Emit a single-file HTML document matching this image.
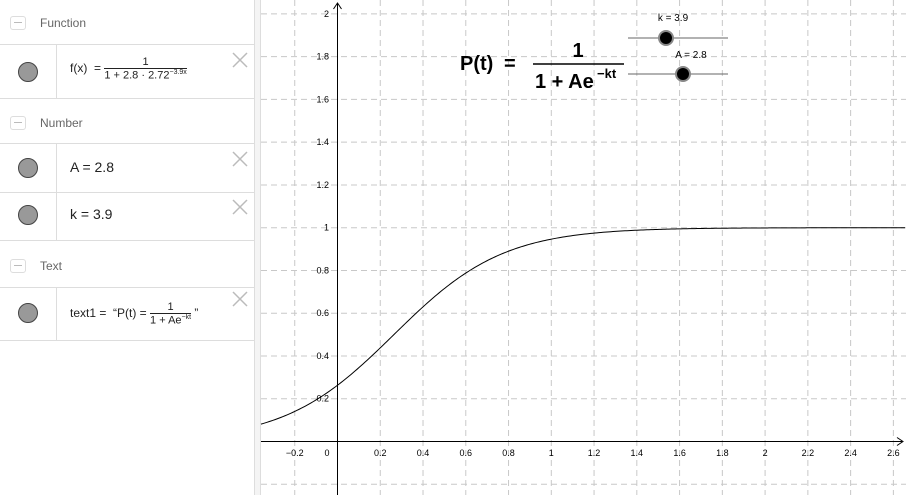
<!DOCTYPE html>
<html><head><meta charset="utf-8"><style>
body{margin:0;width:906px;height:495px;overflow:hidden;background:#fff;font-family:"Liberation Sans",sans-serif;position:relative}
.p{position:absolute;left:0;top:0;width:254px;height:495px;background:#fff;border-right:1px solid #ddd}
.hdr{position:absolute;left:0;width:254px;color:#666;font-size:12px}
.hdr .m{position:absolute;left:10px;width:14px;height:12px;border:1px solid #ddd;border-radius:3px}
.hdr .m:after{content:"";position:absolute;left:3px;top:5px;width:8px;height:1px;background:#bbb}
.hdr span{position:absolute;left:40px}
.row{position:absolute;left:0;width:254px;border-top:1px solid #ddd;border-bottom:1px solid #ddd}
.row .c{position:absolute;left:18px;width:18px;height:18px;border-radius:50%;background:#999;border:1px solid #444}
.row .v{position:absolute;left:56px;top:0;bottom:0;border-left:1px solid #ddd}
.row svg.x{position:absolute;left:232px;top:7px}
.row .t{position:absolute;left:70px;font-size:13px;color:#222}
.fr{display:inline-block;vertical-align:middle;text-align:center;font-size:11px}
.fr .n{display:block;border-bottom:1px solid #222;padding:0 1px}
</style></head><body>
<div class="p">
<div class="hdr" style="top:16px"><div class="m"></div><span>Function</span></div>
<div class="row" style="top:44px;height:53px"><div class="c" style="top:17px"></div><div class="v"></div><svg class="x" width="16" height="16"><path d="M1 1L15 15M15 1L1 15" stroke="#bbb" stroke-width="1.5"/></svg>
<div class="t" style="top:11px;font-size:12px">f(x) &nbsp;= <span class="fr"><span class="n">1</span>1 + 2.8 · 2.72<sup style="font-size:7px">−3.9x</sup></span></div></div>
<div class="hdr" style="top:116px"><div class="m"></div><span>Number</span></div>
<div class="row" style="top:143px;height:48px"><div class="c" style="top:14px"></div><div class="v"></div><svg class="x" width="16" height="16"><path d="M1 1L15 15M15 1L1 15" stroke="#bbb" stroke-width="1.5"/></svg><div class="t" style="top:15px;font-size:14px">A = 2.8</div></div>
<div class="row" style="top:192px;height:48px;border-top:none"><div class="c" style="top:13px"></div><div class="v"></div><svg class="x" width="16" height="16"><path d="M1 1L15 15M15 1L1 15" stroke="#bbb" stroke-width="1.5"/></svg><div class="t" style="top:14px;font-size:14px">k = 3.9</div></div>
<div class="hdr" style="top:259px"><div class="m"></div><span>Text</span></div>
<div class="row" style="top:287px;height:52px"><div class="c" style="top:15px"></div><div class="v"></div><svg class="x" width="16" height="16" style="top:3px"><path d="M1 1L15 15M15 1L1 15" stroke="#bbb" stroke-width="1.5"/></svg>
<div class="t" style="top:13px;font-size:12px">text1 = &nbsp;“P(t) = <span class="fr"><span class="n">1</span>1 + Ae<sup style="font-size:7px">−kt</sup></span> ”</div></div>
</div>
<div style="position:absolute;left:255px;top:0;width:5px;height:495px;background:#f4f4f4;border-right:1px solid #ddd"></div>
<svg id="g" style="position:absolute;left:0;top:0" width="906" height="495" font-family="Liberation Sans, sans-serif" font-size="9">
<g id="grid" stroke="#c8c8c8" stroke-dasharray="6,4" stroke-width="1"></g>
<line x1="261" y1="441.5" x2="902" y2="441.5" stroke="#000"/>
<path d="M897 437.5 L903 441.5 L897 445.5" fill="none" stroke="#000"/>
<line x1="337.5" y1="495" x2="337.5" y2="3" stroke="#000"/>
<path d="M333.5 9 L337.5 3 L341.5 9" fill="none" stroke="#000"/>
<g id="lab" fill="#000"></g>
<path id="curve" fill="none" stroke="#000" stroke-width="1"/>
<line x1="628" y1="38" x2="728" y2="38" stroke="#666"/>
<line x1="628" y1="74" x2="728" y2="74" stroke="#666"/>
<circle cx="666" cy="38" r="7" fill="#000" stroke="#888" stroke-width="2"/>
<circle cx="683" cy="74" r="7" fill="#000" stroke="#888" stroke-width="2"/>
<text x="673" y="21" font-size="10" text-anchor="middle">k = 3.9</text>
<text x="691" y="58" font-size="10" text-anchor="middle">A = 2.8</text>
<g font-weight="bold" font-size="20">
<text x="460" y="70">P(t)</text>
<text x="504" y="70">=</text>
<text x="578" y="57" text-anchor="middle">1</text>
<line x1="533" y1="64" x2="624" y2="64" stroke="#000" stroke-width="1.5"/>
<text x="535" y="88">1 + Ae</text>
<text x="597" y="78" font-size="13">−kt</text>
</g>
</svg>
<script>
var ox=337.5,oy=441.5,s=213.8,g=document.getElementById('grid'),l=document.getElementById('lab'),h='',t='';
for(var i=-1;i<=13;i++){var x=ox+i*s*0.2;if(x<261||i==0)continue;h+='<line x1="'+x+'" y1="0" x2="'+x+'" y2="495"/>';
var v=(i*0.2).toFixed(1).replace(/\.0$/,'').replace('-','−');t+='<text x="'+x+'" y="456" text-anchor="middle">'+v+'</text>';}
for(var j=-1;j<=10;j++){var y=oy-j*s*0.2;if(j==0)continue;h+='<line x1="261" y1="'+y+'" x2="906" y2="'+y+'"/>';
if(j>0){var v=(j*0.2).toFixed(1).replace(/\.0$/,'');t+='<text x="329" y="'+(y+3)+'" text-anchor="end">'+v+'</text>';}}
t+='<text x="327" y="456" text-anchor="middle">0</text>';
g.innerHTML=h;l.innerHTML=t;
var d='';for(var px=261;px<=906;px+=2){var xv=(px-ox)/s,yv=1/(1+2.8*Math.pow(2.72,-3.9*xv));d+=(d?'L':'M')+px+' '+(oy-yv*s).toFixed(2);}
document.getElementById('curve').setAttribute('d',d);
</script>
</body></html>
